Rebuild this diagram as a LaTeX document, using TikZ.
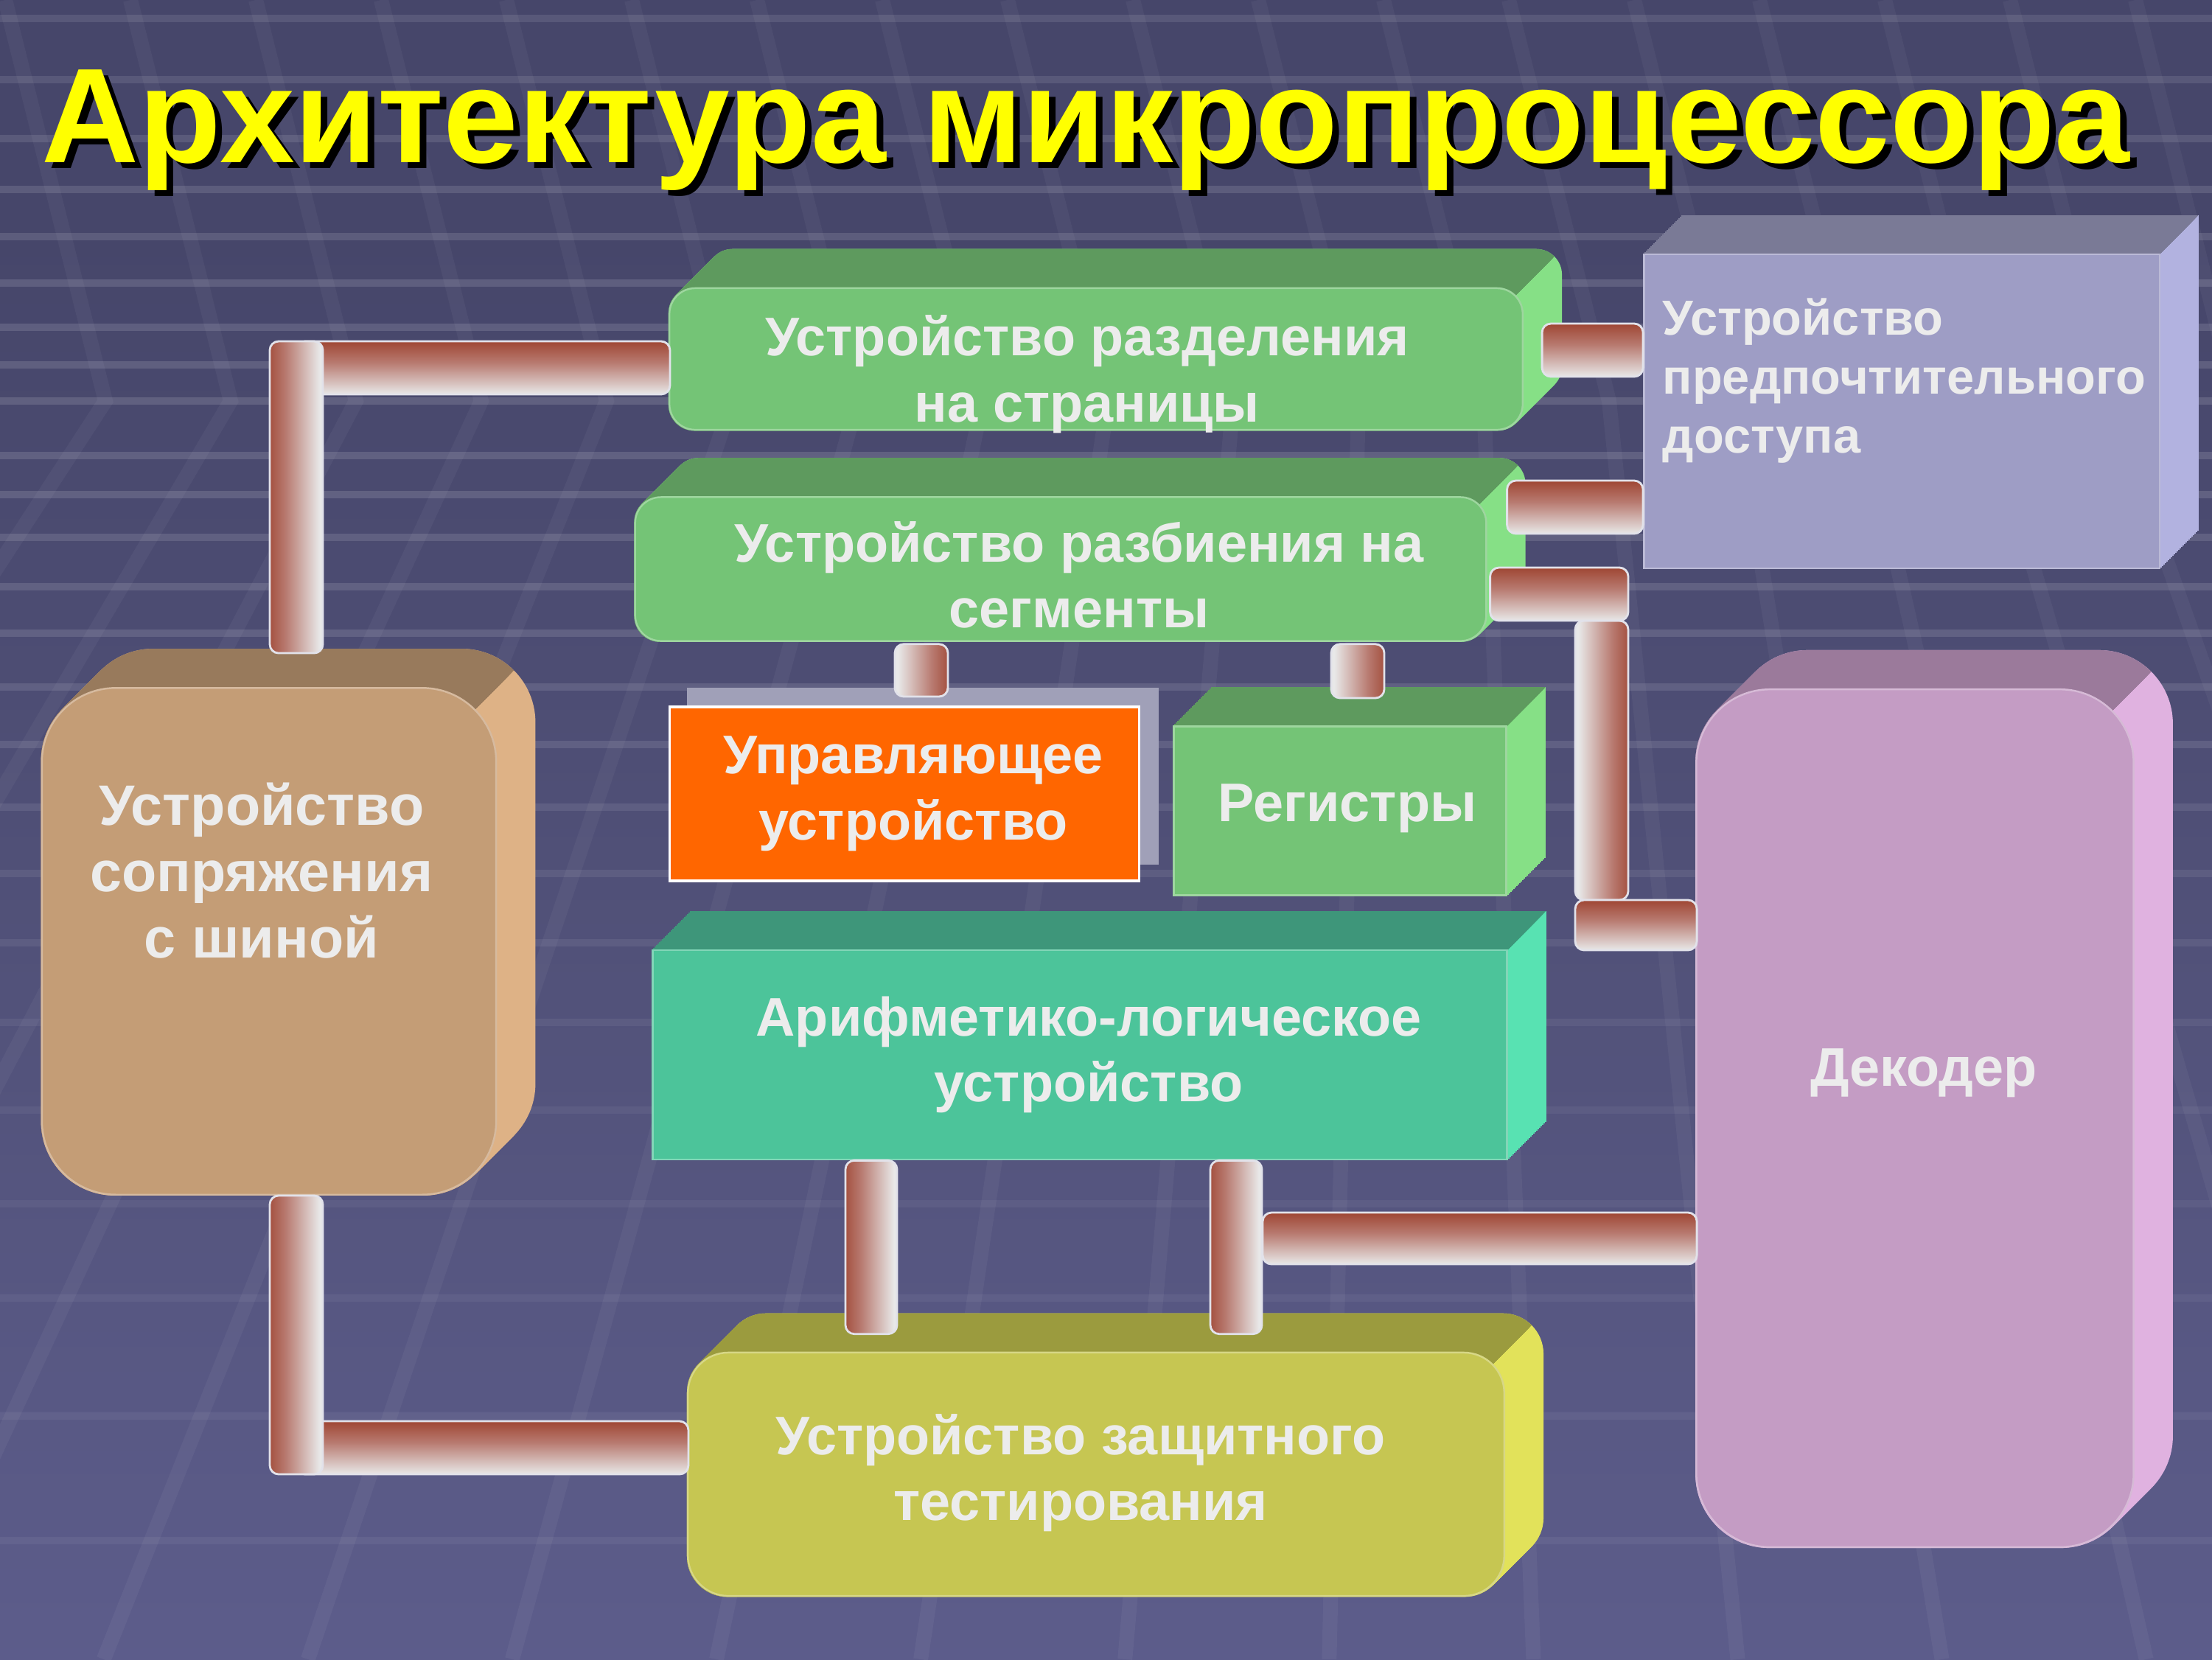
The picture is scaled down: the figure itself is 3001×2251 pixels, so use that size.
\documentclass[tikz,border=0pt]{standalone}
\usepackage{fontspec}
\setmainfont{Liberation Sans}
\usetikzlibrary{calc,positioning}

% background and pipes
\definecolor{bgtop}{RGB}{102,104,152}
\definecolor{bgupper}{RGB}{90,91,134}
\definecolor{bgdark}{RGB}{70,70,106}
\definecolor{bgmid}{RGB}{82,82,122}
\definecolor{bglow}{RGB}{95,95,143}
\definecolor{bgbottom}{RGB}{102,102,152}
\definecolor{titleyellow}{RGB}{255,255,0}
\definecolor{textwhite}{RGB}{236,236,236}
\definecolor{pipedark}{RGB}{150,52,30}
\definecolor{pipemid}{RGB}{184,122,112}
\definecolor{pipelight}{RGB}{232,232,232}
\definecolor{pipeedge}{RGB}{226,226,234}
% faces of the blocks
\definecolor{greenfront}{RGB}{116,196,118}
\definecolor{greentop}{RGB}{94,154,94}
\definecolor{greenside}{RGB}{134,224,134}
\definecolor{accfront}{RGB}{158,157,197}
\definecolor{acctop}{RGB}{122,122,150}
\definecolor{accside}{RGB}{178,178,224}
\definecolor{busfront}{RGB}{196,157,118}
\definecolor{bustop}{RGB}{152,122,92}
\definecolor{busside}{RGB}{222,178,134}
\definecolor{decfront}{RGB}{196,156,196}
\definecolor{dectop}{RGB}{155,122,155}
\definecolor{decside}{RGB}{224,178,224}
\definecolor{alufront}{RGB}{76,196,154}
\definecolor{alutop}{RGB}{62,150,122}
\definecolor{aluside}{RGB}{88,226,178}
\definecolor{protfront}{RGB}{198,198,82}
\definecolor{prottop}{RGB}{155,155,62}
\definecolor{protside}{RGB}{226,226,90}
\definecolor{cuorange}{RGB}{255,102,0}
\definecolor{cushade}{RGB}{160,160,184}

\pgfdeclareverticalshading{slide}{100bp}{color(0bp)=(bgbottom); color(20bp)=(bglow); color(45bp)=(bgmid); color(68bp)=(bgdark); color(80bp)=(bgdark); color(90bp)=(bgupper); color(100bp)=(bgtop)}
\pgfdeclareverticalshading{pipeH}{100bp}{color(0bp)=(pipelight); color(25bp)=(pipelight); color(55bp)=(pipemid); color(82bp)=(pipedark); color(100bp)=(pipedark)}
\pgfdeclarehorizontalshading{pipeV}{100bp}{color(0bp)=(pipedark); color(14bp)=(pipedark); color(40bp)=(pipemid); color(72bp)=(pipelight); color(100bp)=(pipelight)}
\pgfdeclarehorizontalshading{pipeVr}{100bp}{color(0bp)=(pipelight); color(28bp)=(pipelight); color(60bp)=(pipemid); color(86bp)=(pipedark); color(100bp)=(pipedark)}

\pgfdeclarelayer{bg}
\pgfdeclarelayer{back}
\pgfsetlayers{bg,back,main}

\tikzset{
  face/.style={rectangle, inner sep=0pt, fill=#1, draw=#1!70!white, line width=0.7pt},
  boxtext/.style={text=textwhite, align=center, font=\bfseries\fontsize{21}{25.5}\selectfont},
  hpipe/.style={shading=pipeH, draw=pipeedge, line width=0.8pt, rounded corners=0.12cm},
  vpipe/.style={shading=pipeV, draw=pipeedge, line width=0.8pt, rounded corners=0.12cm},
  vpiper/.style={shading=pipeVr, draw=pipeedge, line width=0.8pt, rounded corners=0.12cm},
  stripe/.style={white, line width=2.6pt, opacity=#1},
  band/.style={white, line width=5.7pt, opacity=0.045},
}

% depth of a block: node, top colour, side colour, corner radius
\newcommand\extrude[4]{%
  \begin{pgfonlayer}{back}
    \foreach \d in {0,2,...,52}
      \fill[#3, rounded corners=#4*0.01cm] ($(#1.south west)+(\d,-\d)$) rectangle ($(#1.north east)+(\d,-\d)$);
    \begin{scope}
      \clip ($(#1.north east)+(-0.29*#4,0.29*#4)$) ++(800,-800) -- ++(-2800,0) -- ++(0,2800) -- cycle;
      \foreach \d in {0,2,...,52}
        \fill[#2, rounded corners=#4*0.01cm] ($(#1.south west)+(\d,-\d)$) rectangle ($(#1.north east)+(\d,-\d)$);
    \end{scope}
  \end{pgfonlayer}}

\begin{document}
\begin{tikzpicture}[x=0.01cm, y=-0.01cm]
    % background
    \begin{pgfonlayer}{bg}
        \shade[shading=slide] (0,0) rectangle (3001,2251);
        \foreach \a in {143,313,...,3203}
        {
            \draw[band] ({\a-136},0) -- (\a,544) -- ({\a+(\a-1906)*0.63},2251);
        }
        \foreach \y/\o in {25/0.1,108/0.1,188/0.11,257/0.12,321/0.12,384/0.13,444/0.13,495/0.13,544/0.13,618/0.13,671/0.13,729/0.12,796/0.12,859/0.12,932/0.11,1010/0.1,1095/0.09,1185/0.08,1279/0.07,1387/0.06,1506/0.05,1633/0.05,1761/0.05,1921/0.05,2090/0.05}
        {
            \draw[stripe=\o] (0,\y) -- (3001,\y);
        }
    \end{pgfonlayer}

    % title
    \node[anchor=base, text=black, font=\bfseries\fontsize{52}{60}\selectfont] (titleShadow) at (1482,228) {Архитектура микропроцессора};
    \node[anchor=base, text=titleyellow, font=\bfseries\fontsize{52}{60}\selectfont] (title) at (1473,220) {Архитектура микропроцессора};

    % blocks
    \node[face=greenfront, rounded corners=0.35cm, minimum width=11.57cm, minimum height=1.92cm] (page) at (1487,487) {};
    \extrude{page}{greentop}{greenside}{35}
    \node[boxtext] (pageText) at ($(page.center)+(-12,21)$) {Устройство разделения\\на страницы};
    \node[face=greenfront, rounded corners=0.35cm, minimum width=11.54cm, minimum height=1.95cm] (seg) at (1439,772) {};
    \extrude{seg}{greentop}{greenside}{35}
    \node[boxtext] (segText) at ($(seg.center)+(25,8)$) {Устройство разбиения на\\сегменты};
    \node[face=accfront, minimum width=6.99cm, minimum height=4.26cm] (acc) at (2580,558) {};
    \extrude{acc}{acctop}{accside}{0}
    \node[boxtext, align=left, anchor=north west, inner sep=0pt, font=\bfseries\fontsize{19}{22.8}\selectfont] (accText) at ($(acc.north west)+(26,60)$) {Устройство\\предпочтительного\\доступа};
    \node[face=busfront, rounded corners=1cm, minimum width=6.16cm, minimum height=6.87cm] (bus) at (365,1277) {};
    \extrude{bus}{bustop}{busside}{100}
    \node[boxtext, font=\bfseries\fontsize{22}{25.6}\selectfont] (busText) at ($(bus.center)+(-10,-96)$) {Устройство\\сопряжения\\с шиной};
    \node[face=decfront, rounded corners=1cm, minimum width=5.93cm, minimum height=11.63cm] (dec) at (2598,1517) {};
    \extrude{dec}{dectop}{decside}{100}
    \node[boxtext] (decText) at ($(dec.center)+(12,-61)$) {Декодер};
    \node[fill=cuorange, draw=white, line width=1pt, inner sep=0pt, minimum width=6.37cm, minimum height=2.36cm] (cu) at (1227,1077) {};
    \begin{pgfonlayer}{back}
        \fill[cushade] ($(cu.south west)+(25,-24)$) rectangle ($(cu.north east)+(25,-24)$);
    \end{pgfonlayer}
    \node[boxtext] (cuText) at ($(cu.center)+(12,0)$) {Управляющее\\устройство};
    \node[face=greenfront, minimum width=4.51cm, minimum height=2.29cm] (reg) at (1818,1100) {};
    \extrude{reg}{greentop}{greenside}{0}
    \node[boxtext] (regText) at ($(reg.center)+(10,-3)$) {Регистры};
    \node[face=alufront, minimum width=11.58cm, minimum height=2.84cm] (alu) at (1465,1431) {};
    \extrude{alu}{alutop}{aluside}{0}
    \node[boxtext] (aluText) at ($(alu.center)+(12,0)$) {Арифметико-логическое\\устройство};
    \node[face=protfront, rounded corners=0.55cm, minimum width=11.07cm, minimum height=3.3cm] (prot) at (1487,2000) {};
    \extrude{prot}{prottop}{protside}{55}
    \node[boxtext] (protText) at ($(prot.center)+(-21,-2)$) {Устройство защитного\\тестирования};

    % connectors
    \coordinate (c1) at (402,499);
    \coordinate (c2) at (402,1964);
    \coordinate (c3) at (2150,475);
    \coordinate (c4) at (2150,688);
    \coordinate (c5) at (2173,806);
    \coordinate (c6) at (2173,1255);
    \coordinate (c7) at (1250,945);
    \coordinate (c8) at (1842,947);
    \coordinate (c9) at (1182,1700);
    \coordinate (c10) at (1677,1680);

    \shade[hpipe] ($(c1)+(0,-36)$) rectangle ($(page.west |- c1)+(2,36)$);
    \shade[vpipe] ($(c1)+(-36,-36)$) rectangle ($(c1 |- bus.north)+(36,-46)$);
    \shade[hpipe] ($(c2)+(0,-36)$) rectangle ($(prot.west |- c2)+(2,36)$);
    \shade[vpipe] ($(c2 |- bus.south)+(-36,0)$) rectangle ($(c2)+(36,36)$);
    \shade[hpipe] ($(page.east |- c3)+(25,-36)$) rectangle ($(acc.west |- c3)+(0,36)$);
    \shade[hpipe] ($(seg.east |- c4)+(27,-36)$) rectangle ($(acc.west |- c4)+(0,36)$);
    \shade[vpiper] ($(c5)+(-36,36)$) rectangle ($(c6)+(36,-34)$);
    \shade[hpipe] ($(seg.east |- c5)+(4,-36)$) rectangle ($(c5)+(36,36)$);
    \shade[hpipe] ($(c6)+(-36,-34)$) rectangle ($(dec.west |- c6)+(2,34)$);
    \shade[vpiper] ($(seg.south -| c7)+(-36,3)$) rectangle ($(c7)+(36,0)$);
    \shade[vpiper] ($(seg.south -| c8)+(-36,3)$) rectangle ($(c8)+(36,0)$);
    \shade[vpipe] ($(alu.south -| c9)+(-35,0)$) rectangle ($(prot.north -| c9)+(35,-24)$);
    \shade[vpipe] ($(alu.south -| c10)+(-35,0)$) rectangle ($(prot.north -| c10)+(35,-24)$);
    \shade[hpipe] ($(c10)+(36,-35)$) rectangle ($(dec.west |- c10)+(2,35)$);

    \pgfresetboundingbox
    \useasboundingbox (0,0) rectangle (3001,2251);
\end{tikzpicture}
\end{document}
